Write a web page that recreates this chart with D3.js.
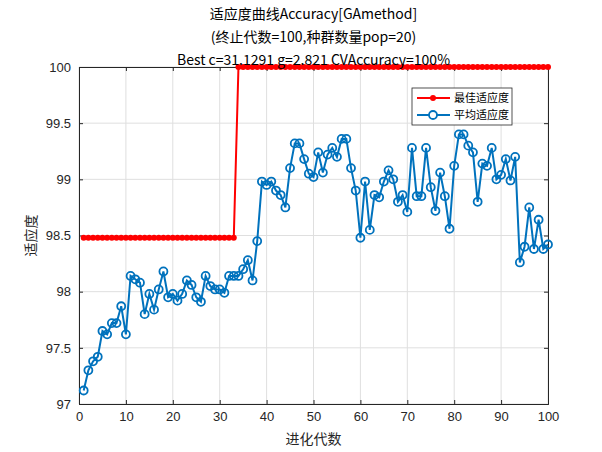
<!DOCTYPE html>
<html><head><meta charset="utf-8">
<script src="https://cdn.jsdelivr.net/npm/d3@7"></script>
<style>body{margin:0;background:#fff;font-family:"Noto Sans CJK SC",Arial,sans-serif}</style>
</head><body><svg id="c" width="602" height="452"></svg>
<script>
var avgFit = [97.12,97.3,97.38,97.42,97.65,97.62,97.72,97.72,97.87,97.62,
98.14,98.11,98.08,97.8,97.98,97.84,98.02,98.18,97.95,97.98,
97.92,97.98,98.1,98.06,97.95,97.91,98.14,98.05,98.02,98.02,
97.99,98.14,98.14,98.14,98.2,98.28,98.1,98.45,98.98,98.95,
98.98,98.9,98.86,98.75,99.1,99.32,99.32,99.18,99.05,99.02,
99.24,99.06,99.22,99.28,99.2,99.36,99.36,99.1,98.9,98.48,
98.98,98.55,98.86,98.84,98.98,99.08,99.0,98.8,98.86,98.71,
99.28,98.85,98.85,99.28,98.93,98.72,99.06,98.85,98.56,99.12,
99.4,99.4,99.3,99.24,98.8,99.14,99.12,99.28,99.0,99.04,
99.18,98.99,99.2,98.26,98.4,98.75,98.38,98.64,98.38,98.42];
var bestFit = [];
for (var i = 1; i <= 100; i++) bestFit.push(i <= 33 ? 98.48 : 100);
var xTicks = [0,10,20,30,40,50,60,70,80,90,100];
var yTicks = [97,97.5,98,98.5,99,99.5,100];
var titles = ["适应度曲线Accuracy[GAmethod]","(终止代数=100,种群数量pop=20)","Best c=31.1291 g=2.821 CVAccuracy=100%"];

var svg = d3.select("#c");
var L = 79, R = 548, T = 67, B = 404;
var x = d3.scaleLinear().domain([0,100]).range([L,R]);
var y = d3.scaleLinear().domain([97,100]).range([B,T]);

svg.append("g").selectAll("line").data(xTicks).enter().append("line")
  .attr("x1", x).attr("x2", x).attr("y1", T).attr("y2", B).attr("stroke", "#dfdfdf");
svg.append("g").selectAll("line").data(yTicks).enter().append("line")
  .attr("y1", y).attr("y2", y).attr("x1", L).attr("x2", R).attr("stroke", "#dfdfdf");

var ax = svg.append("g").attr("transform", "translate(0," + B + ")")
  .call(d3.axisBottom(x).tickValues(xTicks).tickSize(-4).tickPadding(8));
var ay = svg.append("g").attr("transform", "translate(" + L + ",0)")
  .call(d3.axisLeft(y).tickValues(yTicks).tickSize(-4).tickPadding(8).tickFormat(d3.format("")));
svg.append("g").attr("transform", "translate(0," + T + ")")
  .call(d3.axisTop(x).tickValues(xTicks).tickSize(-4).tickFormat(""));
svg.append("g").attr("transform", "translate(" + R + ",0)")
  .call(d3.axisRight(y).tickValues(yTicks).tickSize(-4).tickFormat(""));
svg.selectAll(".domain,.tick line").attr("stroke", "#262626");
svg.selectAll(".tick text").attr("font-size", 13).attr("fill", "#262626").attr("font-family", "Arial, sans-serif");

var line = d3.line().x(function(d, i){ return x(i + 1); }).y(function(d){ return y(d); });
svg.append("path").datum(bestFit).attr("d", line).attr("fill", "none").attr("stroke", "#ff0000").attr("stroke-width", 2);
svg.append("g").selectAll("circle").data(bestFit).enter().append("circle")
  .attr("cx", function(d, i){ return x(i + 1); }).attr("cy", y).attr("r", 3).attr("fill", "#ff0000");
svg.append("path").datum(avgFit).attr("d", line).attr("fill", "none").attr("stroke", "#0072bd").attr("stroke-width", 2);
svg.append("g").selectAll("circle").data(avgFit).enter().append("circle")
  .attr("cx", function(d, i){ return x(i + 1); }).attr("cy", y).attr("r", 4)
  .attr("fill", "none").attr("stroke", "#0072bd").attr("stroke-width", 1.8);

var lg = svg.append("g").attr("transform", "translate(412,88)");
lg.append("rect").attr("width", 100).attr("height", 37).attr("fill", "#fff").attr("stroke", "#262626").attr("stroke-width", 0.8);
lg.append("line").attr("x1", 5).attr("x2", 38).attr("y1", 10).attr("y2", 10).attr("stroke", "#ff0000").attr("stroke-width", 2);
lg.append("circle").attr("cx", 21).attr("cy", 10).attr("r", 3).attr("fill", "#ff0000");
lg.append("line").attr("x1", 5).attr("x2", 38).attr("y1", 27).attr("y2", 27).attr("stroke", "#0072bd").attr("stroke-width", 2);
lg.append("circle").attr("cx", 21).attr("cy", 27).attr("r", 4).attr("fill", "#fff").attr("stroke", "#0072bd").attr("stroke-width", 1.8);
lg.append("text").attr("x", 42).attr("y", 14).attr("font-size", 11).text("最佳适应度");
lg.append("text").attr("x", 42).attr("y", 31).attr("font-size", 11).text("平均适应度");

svg.selectAll(".title").data(titles).enter().append("text")
  .attr("x", (L + R) / 2).attr("y", function(d, i){ return 19 + i * 23; })
  .attr("text-anchor", "middle").attr("font-size", 14).attr("fill", "#000").text(function(d){ return d; });
svg.append("text").attr("x", (L + R) / 2).attr("y", 444).attr("text-anchor", "middle")
  .attr("font-size", 14).attr("fill", "#262626").text("进化代数");
svg.append("text").attr("transform", "translate(36," + (T + B) / 2 + ") rotate(-90)")
  .attr("text-anchor", "middle").attr("font-size", 14).attr("fill", "#262626").text("适应度");
</script></body></html>
